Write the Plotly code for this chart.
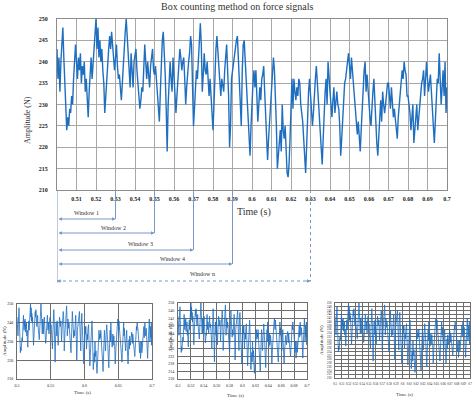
import plotly.graph_objects as go

# force signal, one sample every 0.0005 s from 0.5 s to 0.7 s
t_start = 0.5
t_step = 0.0005
force_n = [
    243, 236, 241, 233, 240, 246, 248, 241, 236, 228, 224, 227, 225, 229, 228, 232, 230, 236, 240, 244,
    240, 236, 241, 238, 242, 235, 239, 237, 240, 233, 236, 230, 227, 233, 238, 241, 236, 240, 244, 247,
    250, 243, 248, 241, 245, 240, 243, 238, 235, 228, 232, 238, 240, 243, 246, 243, 247, 244, 240, 238,
    241, 244, 239, 236, 237, 233, 231, 235, 240, 243, 247, 250, 246, 240, 236, 234, 242, 238, 234, 240,
    242, 243, 238, 234, 232, 229, 231, 234, 233, 238, 244, 240, 236, 240, 237, 234, 239, 241, 243, 238,
    237, 239, 236, 233, 230, 226, 233, 241, 245, 247, 243, 237, 229, 219, 230, 236, 240, 236, 233, 241,
    237, 233, 228, 232, 236, 239, 243, 241, 238, 240, 241, 236, 230, 234, 238, 240, 242, 246, 244, 237,
    225, 229, 234, 238, 236, 240, 243, 249, 244, 233, 237, 242, 238, 237, 240, 236, 232, 236, 231, 227,
    224, 230, 240, 243, 246, 242, 238, 235, 232, 236, 234, 233, 238, 241, 244, 238, 232, 220, 225, 236,
    238, 240, 242, 243, 245, 246, 240, 234, 229, 225, 238, 244, 245, 240, 236, 230, 225, 221, 218, 225,
    231, 235, 238, 234, 238, 232, 226, 230, 234, 231, 236, 237, 239, 233, 226, 221, 217, 222, 226, 230,
    236, 238, 241, 238, 232, 225, 215, 218, 222, 224, 219, 230, 224, 222, 225, 219, 214, 213, 216, 222,
    228, 236, 229, 236, 233, 231, 234, 232, 236, 235, 230, 228, 226, 222, 218, 214, 220, 230, 233, 236,
    233, 229, 225, 228, 233, 236, 239, 235, 233, 229, 224, 220, 216, 222, 230, 233, 236, 230, 240, 235,
    233, 230, 227, 231, 234, 228, 231, 233, 230, 229, 225, 218, 222, 226, 232, 235, 236, 238, 240, 242,
    239, 236, 241, 238, 235, 232, 230, 228, 223, 226, 222, 219, 224, 229, 235, 238, 240, 233, 237, 233,
    230, 227, 225, 230, 233, 236, 230, 226, 221, 218, 222, 226, 231, 226, 233, 230, 228, 230, 232, 235,
    235, 232, 229, 234, 231, 227, 229, 226, 224, 222, 227, 230, 234, 236, 238, 236, 240, 238, 237, 232,
    232, 230, 228, 224, 228, 230, 221, 224, 227, 230, 224, 227, 230, 232, 235, 236, 238, 232, 236, 240,
    236, 233, 235, 237, 233, 229, 225, 221, 226, 230, 236, 235, 242, 236, 230, 234, 238, 232, 240, 228,
    234,
]

main_xticks = [0.51, 0.52, 0.53, 0.54, 0.55, 0.56, 0.57, 0.58, 0.59, 0.6,
               0.61, 0.62, 0.63, 0.64, 0.65, 0.66, 0.67, 0.68, 0.69, 0.7]
main_xtext = ["0.51", "0.52", "0.53", "0.54", "0.55", "0.56", "0.57", "0.58", "0.59", "0.6",
              "0.61", "0.62", "0.63", "0.64", "0.65", "0.66", "0.67", "0.68", "0.69", "0.7"]

window_ends = [0.53, 0.55, 0.57, 0.59, 0.63]
window_labels = ["Window 1", "Window 2", "Window 3", "Window 4", "Window n"]

# x tick spacing / y tick spacing of the three small panels
panel_dx = [0.05, 0.02, 0.01]
panel_dy = [10, 4, 2]

W, H = 474, 400
SERIF = "Liberation Serif"
LINE = "#1f6fc0"
ARROW = "#7b97c9"


def px(x):
    return x / W


def py(y):
    return 1 - y / H


def label(text, x, y, size, angle=0):
    # text centred on a pixel position of the page
    return dict(text=text, x=px(x), y=py(y), xref="paper", yref="paper",
                xanchor="center", yanchor="middle", textangle=angle, showarrow=False,
                font=dict(size=size, family=SERIF, color="#333"))


fig = go.Figure()

# main panel + three small panels, same signal
for i in range(4):
    fig.add_trace(go.Scatter(
        x0=t_start, dx=t_step, y=force_n, mode="lines",
        line=dict(color=LINE, width=1.4 if i == 0 else 0.8),
        xaxis="x" if i == 0 else f"x{i + 1}",
        yaxis="y" if i == 0 else f"y{i + 1}",
        showlegend=False, hoverinfo="skip",
    ))

fig.update_layout(
    width=W, height=H,
    margin=dict(l=0, r=0, t=0, b=0),
    paper_bgcolor="white", plot_bgcolor="white",
    font=dict(family=SERIF, color="#222"),
    xaxis=dict(
        domain=[px(57), px(447)], range=[0.5, 0.7], automargin=False,
        tickvals=main_xticks, ticktext=main_xtext, tickangle=0,
        tickfont=dict(size=6, weight="bold"), ticklabelstandoff=3,
        showgrid=True, gridcolor="#a8a8a8", gridwidth=1,
        showline=True, linecolor="#8c8c8c", mirror=True, zeroline=False,
    ),
    yaxis=dict(
        domain=[py(190), py(19)], range=[210, 250], dtick=5, automargin=False,
        tickfont=dict(size=6, weight="bold"), ticklabelstandoff=7,
        showgrid=True, gridcolor="#a8a8a8", gridwidth=1,
        showline=True, linecolor="#8c8c8c", mirror=True, zeroline=False,
    ),
)

# small panels: pixel boxes (left, right, top, bottom)
boxes = [(17, 152, 304, 379), (178, 307, 303, 379), (335, 470, 303, 378)]
for i, (l, r, t, b) in enumerate(boxes):
    n = i + 2
    fig.update_layout({
        f"xaxis{n}": dict(
            domain=[px(l), px(r)], range=[0.5, 0.7], dtick=panel_dx[i], tick0=0.5,
            anchor=f"y{n}", tickangle=0, tickfont=dict(size=4 if i < 2 else 3),
            ticklabelstandoff=2, automargin=False,
            showgrid=True, gridcolor="#6e6e6e", gridwidth=0.8,
            showline=True, linecolor="#6e6e6e", mirror=True, zeroline=False,
        ),
        f"yaxis{n}": dict(
            domain=[py(b), py(t)], range=[210, 250], dtick=panel_dy[i], tick0=210,
            anchor=f"x{n}", tickfont=dict(size=4 if i < 2 else 3),
            ticklabelstandoff=2, automargin=False,
            showgrid=True, gridcolor="#6e6e6e", gridwidth=0.8,
            showline=True, linecolor="#6e6e6e", mirror=True, zeroline=False,
        ),
    })

ann = [
    label("Box counting method on force signals", 237, 6, 10),
    label("Amplitude (N)", 27, 120, 8, -90),
    label("Time (s)", 254, 212, 10),
]

small_titles = [(82, 392, 4, 341), (235, 395, 170, 337), (404, 394, 321, 340)]
for (tx, ty, ax_, ay_) in small_titles:
    ann.append(label("Time (s)", tx, ty, 5))
    ann.append(label("Amplitude (N)", ax_, ay_, 5, -90))

# window brackets under the main panel
arrow_y = [219, 233, 250, 264, 281]
label_y = [213, 228, 244, 259, 274]
label_x = [86, 113, 140, 172, 202]
shapes = [dict(type="line", xref="x", yref="paper", x0=0.5, x1=0.5,
               y0=py(190), y1=py(283), line=dict(color=ARROW, width=1))]
for k, end in enumerate(window_ends):
    dotted = k == len(window_ends) - 1
    shapes.append(dict(type="line", xref="x", yref="paper", x0=end, x1=end,
                       y0=py(190), y1=py(arrow_y[k]),
                       line=dict(color=ARROW, width=1, dash="dot" if dotted else "solid")))
    if dotted:
        shapes.append(dict(type="line", xref="x", yref="paper", x0=0.5, x1=end,
                           y0=py(arrow_y[k]), y1=py(arrow_y[k]),
                           line=dict(color=ARROW, width=1, dash="dot")))
        for tip, off in ((0.5, 6), (end, -6)):
            ann.append(dict(text="", x=tip, y=py(arrow_y[k]), xref="x", yref="paper",
                            ax=off, ay=0, axref="pixel", ayref="pixel", showarrow=True,
                            arrowhead=2, arrowsize=0.7, arrowwidth=1, arrowcolor=ARROW))
    else:
        ann.append(dict(text="", x=end, y=py(arrow_y[k]), xref="x", yref="paper",
                        ax=0.5, ay=0, axref="x", ayref="pixel", showarrow=True,
                        arrowside="start+end", arrowhead=2, startarrowhead=2,
                        arrowsize=0.7, startarrowsize=0.7, arrowwidth=1, arrowcolor=ARROW))
    ann.append(label(window_labels[k], label_x[k], label_y[k], 6))

fig.update_layout(annotations=ann, shapes=shapes)
# drop the browser's default 8px body margin so the figure sits at the page corner
fig.write_html("out.html", config={"displayModeBar": False},
               post_script="document.body.style.margin='0';")
